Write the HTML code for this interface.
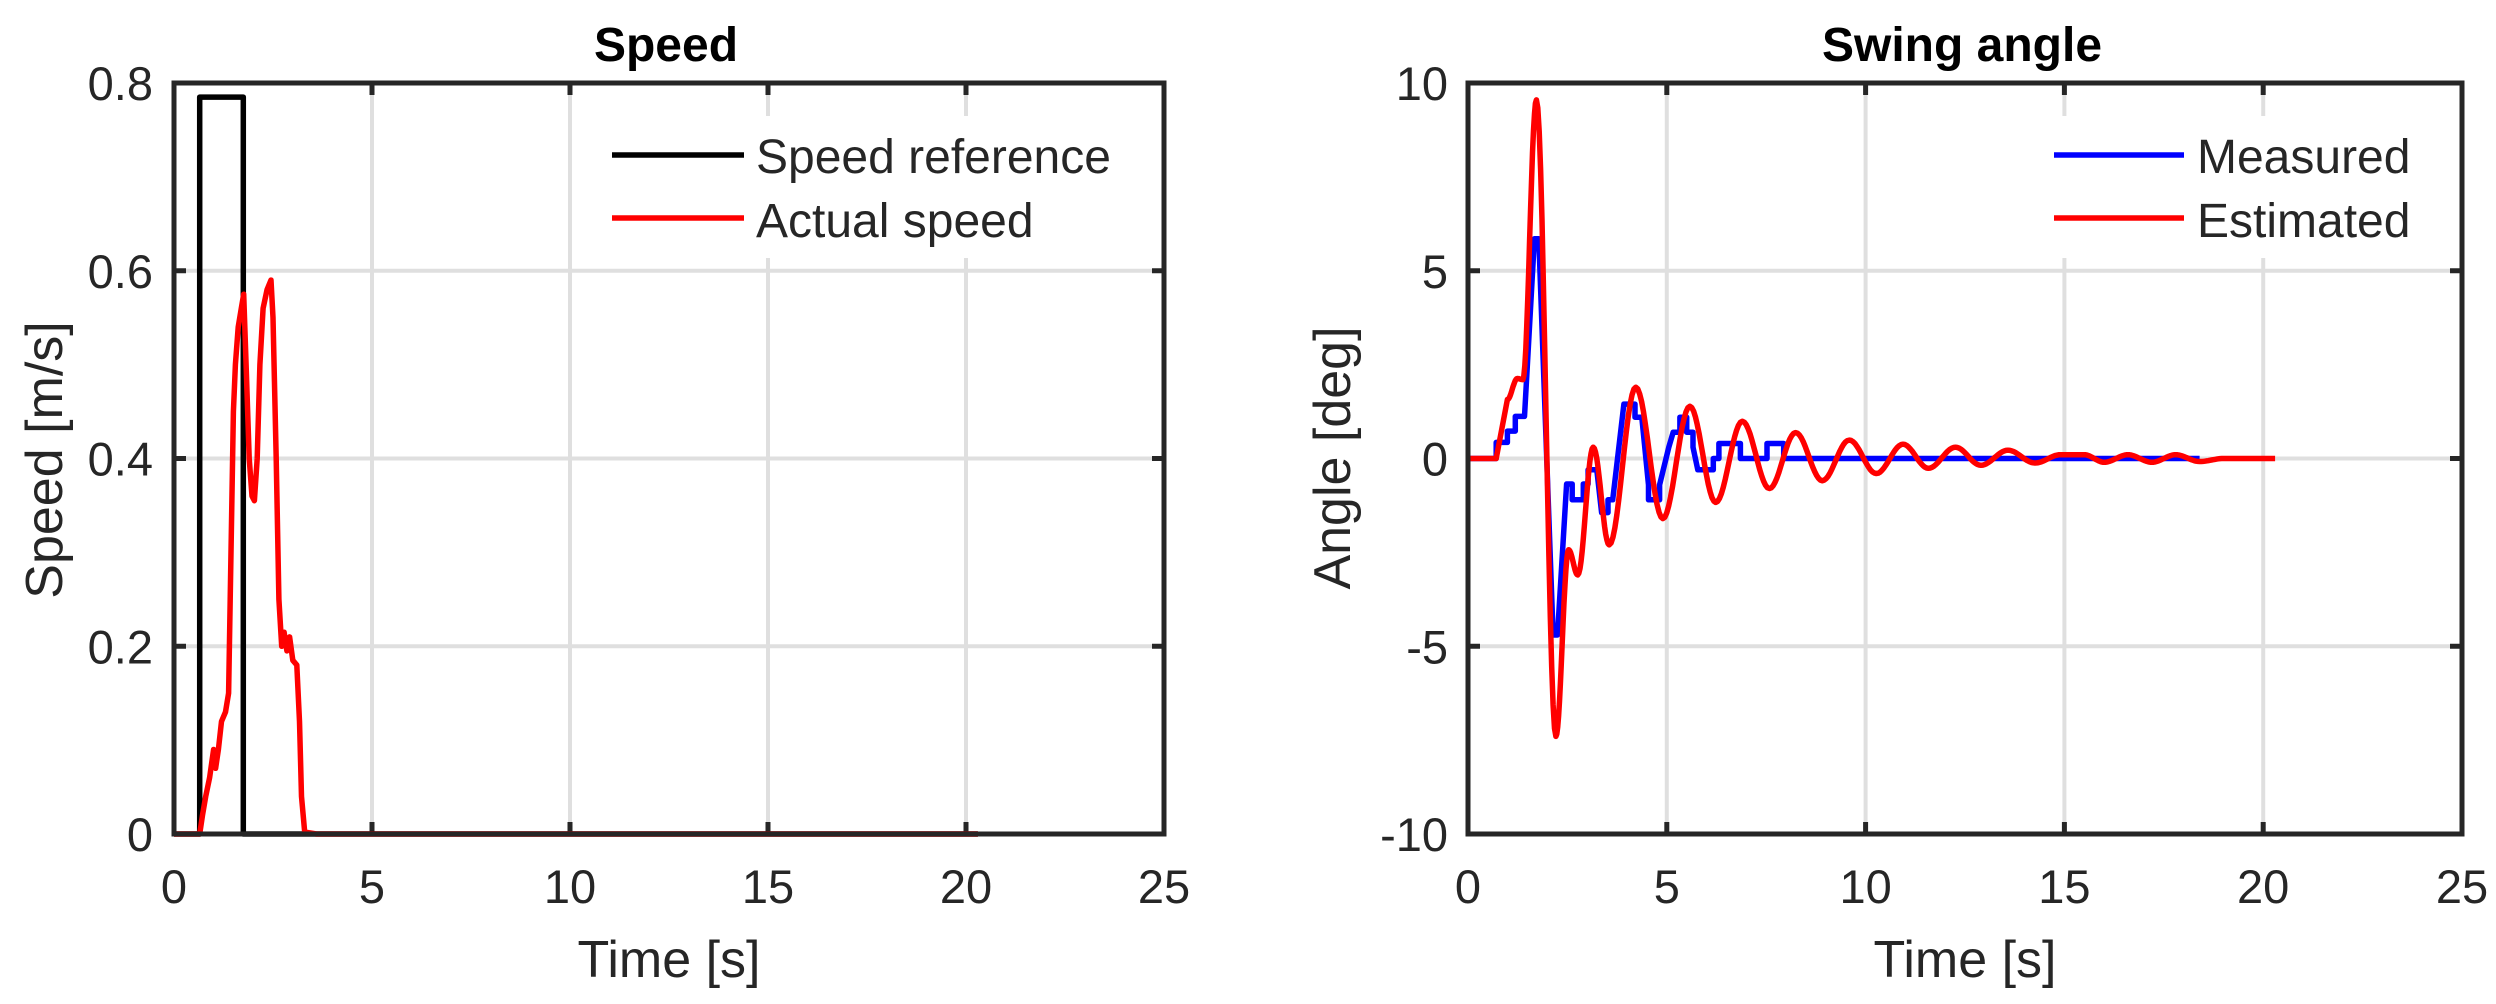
<!DOCTYPE html>
<html><head><meta charset="utf-8"><style>
html,body{margin:0;padding:0;background:#fff}
svg{display:block}
text{font-family:"Liberation Sans",Arial,sans-serif;fill:#262626}
</style></head><body>
<svg id="s" width="2496" height="1004" viewBox="0 0 2496 1004" xmlns="http://www.w3.org/2000/svg">
<rect width="2496" height="1004" fill="#fff"/>
<g id="g"></g>
<text x="666" y="61" font-size="48" font-weight="bold" text-anchor="middle" style="fill:#000">Speed</text>
<text x="669" y="977" font-size="52" text-anchor="middle">Time [s]</text>
<text transform="translate(62,460) rotate(-90)" font-size="52" text-anchor="middle">Speed [m/s]</text>
<text x="1962" y="61" font-size="48" font-weight="bold" text-anchor="middle" style="fill:#000">Swing angle</text>
<text x="1965" y="977" font-size="52" text-anchor="middle">Time [s]</text>
<text transform="translate(1350,458) rotate(-90)" font-size="52" text-anchor="middle">Angle [deg]</text>
</svg>
<script>
const NS="http://www.w3.org/2000/svg";
const g=document.getElementById('g');
function el(t,a,txt){const e=document.createElementNS(NS,t);for(const k in a)e.setAttribute(k,a[k]);if(txt!==undefined)e.textContent=txt;g.appendChild(e);return e;}
function axes(L,R,T,B,yt,ymin,ymax,ylabFmt,ylabX,legend){
  const X=t=>L+(R-L)*t/25, Y=v=>B-(B-T)*(v-ymin)/(ymax-ymin);
  for(let t=5;t<25;t+=5) el('line',{x1:X(t),x2:X(t),y1:T,y2:B,stroke:'#dfdfdf','stroke-width':4});
  yt.forEach(v=>{if(v!==ymin&&v!==ymax)el('line',{x1:L,x2:R,y1:Y(v),y2:Y(v),stroke:'#dfdfdf','stroke-width':4});});
  el('rect',{x:legend.bx,y:116,width:legend.bw,height:142,fill:'#fff'});
  for(let t=0;t<=25;t+=5){
    el('line',{x1:X(t),x2:X(t),y1:B,y2:B-12,stroke:'#262626','stroke-width':5});
    el('line',{x1:X(t),x2:X(t),y1:T,y2:T+12,stroke:'#262626','stroke-width':5});
    el('text',{x:X(t),y:903,'font-size':47,'text-anchor':'middle'},String(t));
  }
  yt.forEach(v=>{
    el('line',{x1:L,x2:L+12,y1:Y(v),y2:Y(v),stroke:'#262626','stroke-width':5});
    el('line',{x1:R,x2:R-12,y1:Y(v),y2:Y(v),stroke:'#262626','stroke-width':5});
    el('text',{x:ylabX,y:Y(v)+17,'font-size':47,'text-anchor':'end'},ylabFmt(v));
  });
  return {X,Y};
}
function poly(pts,X,Y,col,w){el('polyline',{points:pts.map(p=>X(p[0]).toFixed(1)+','+Y(p[1]).toFixed(1)).join(' '),fill:'none',stroke:col,'stroke-width':w||5.5,'stroke-linejoin':'round'});}
function border(L,R,T,B){el('rect',{x:L,y:T,width:R-L,height:B-T,fill:'none',stroke:'#262626','stroke-width':5});}

{
 const L=174,R=1164,T=83,B=834;
 const {X,Y}=axes(L,R,T,B,[0,0.2,0.4,0.6,0.8],0,0.8,v=>v===0?'0':v.toFixed(1),153,{bx:596,bw:534});
 poly([[0,0],[0.65,0],[0.65,0.785],[1.75,0.785],[1.75,0],[20.3,0]],X,Y,'#000',5.5);
 const a=[[0,0],[0.65,0],[0.72,0.02],[0.8,0.04],[0.9,0.06],[1.0,0.09],[1.05,0.07],[1.12,0.09],[1.2,0.12],[1.3,0.13],[1.38,0.15],[1.42,0.25],[1.5,0.45],[1.55,0.5],[1.62,0.54],[1.7,0.56],[1.76,0.575],[1.82,0.5],[1.9,0.4],[1.97,0.36],[2.03,0.355],[2.1,0.4],[2.17,0.5],[2.25,0.56],[2.35,0.58],[2.45,0.59],[2.5,0.55],[2.58,0.4],[2.65,0.25],[2.72,0.2],[2.78,0.215],[2.85,0.195],[2.92,0.21],[3.0,0.185],[3.1,0.18],[3.17,0.12],[3.22,0.04],[3.3,0.002],[3.6,0],[20.3,0]];
 poly(a,X,Y,'#ff0000',5.5);
 border(L,R,T,B);
 el('line',{x1:612,x2:744,y1:155,y2:155,stroke:'#000','stroke-width':5.5});
 el('line',{x1:612,x2:744,y1:218,y2:218,stroke:'#ff0000','stroke-width':5.5});
 el('text',{x:756,y:173,'font-size':48},'Speed reference');
 el('text',{x:756,y:237,'font-size':48},'Actual speed');
}
{
 const L=1468,R=2462,T=83,B=834;
 const {X,Y}=axes(L,R,T,B,[-10,-5,0,5,10],-10,10,v=>String(v),1448,{bx:2035,bw:405});
 const m=[[0,0],[0.71,0],[0.71,0.43],[0.99,0.43],[0.99,0.73],[1.19,0.73],[1.19,1.12],[1.42,1.12],[1.67,5.85],[1.78,5.85],[2.14,-4.7],[2.25,-4.7],[2.48,-0.68],[2.62,-0.68],[2.62,-1.1],[2.9,-1.1],[2.9,-0.68],[3.02,-0.68],[3.02,-0.3],[3.24,-0.3],[3.36,-1.44],[3.52,-1.44],[3.52,-1.1],[3.64,-1.1],[3.92,1.45],[4.2,1.45],[4.2,1.1],[4.37,1.1],[4.54,-0.7],[4.54,-1.1],[4.82,-1.1],[4.82,-0.7],[5.05,0.3],[5.16,0.7],[5.33,0.7],[5.33,1.1],[5.5,1.1],[5.5,0.7],[5.66,0.7],[5.66,0.3],[5.78,-0.3],[6.17,-0.3],[6.17,0],[6.31,0],[6.31,0.4],[6.85,0.4],[6.85,0],[7.52,0],[7.52,0.4],[7.94,0.4],[7.94,0],[18.4,0]];
 poly(m,X,Y,'#0000ff',5.5);
 const ex=[[0,0],[0.71,0],[0.99,1.57],[1.24,2.13],[1.38,2.1],[1.72,9.55],[2.21,-7.4],[2.53,-2.43],[2.76,-3.1],[3.15,0.3],[3.55,-2.3],[4.22,1.9],[4.9,-1.6],[5.58,1.39],[6.23,-1.17],[6.9,0.99],[7.58,-0.8],[8.24,0.69],[8.91,-0.59],[9.59,0.49],[10.27,-0.4],[10.94,0.38],[11.58,-0.26],[12.26,0.3],[12.9,-0.18],[13.58,0.22],[14.26,-0.12],[14.9,0.1],[15.5,0.1],[16.0,-0.1],[16.6,0.1],[17.2,-0.1],[17.8,0.1],[18.4,-0.08],[19.0,0],[20.3,0]];
 const pts=[];
 for(let i=0;i<ex.length-1;i++){
   const [t0,a0]=ex[i],[t1,a1]=ex[i+1];
   const n=i<2?2:14;
   for(let k=0;k<n;k++){const u=k/n;const s=i<2?u:(1-Math.cos(Math.PI*u))/2;pts.push([t0+(t1-t0)*u,a0+(a1-a0)*s]);}
 }
 pts.push(ex[ex.length-1]);
 poly(pts,X,Y,'#ff0000',5.5);
 border(L,R,T,B);
 el('line',{x1:2054,x2:2184,y1:155,y2:155,stroke:'#0000ff','stroke-width':5.5});
 el('line',{x1:2054,x2:2184,y1:218,y2:218,stroke:'#ff0000','stroke-width':5.5});
 el('text',{x:2197,y:173,'font-size':48},'Measured');
 el('text',{x:2197,y:237,'font-size':48},'Estimated');
}
</script>
</body></html>
